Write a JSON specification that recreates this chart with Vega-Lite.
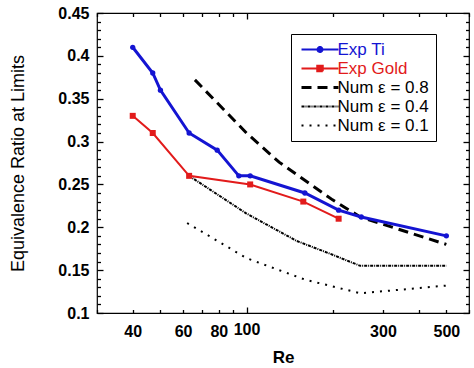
{
  "$schema": "https://vega.github.io/schema/vega-lite/v6.json",
  "width": 372,
  "height": 300,
  "autosize": {"type": "none"},
  "padding": {"left": 97, "top": 13, "right": 5, "bottom": 55},
  "background": "white",
  "config": {
    "font": "Liberation Sans",
    "view": {"stroke": "black", "strokeWidth": 1.2},
    "axis": {
      "grid": false,
      "domain": false,
      "ticks": true,
      "labelFont": "Liberation Sans",
      "labelFontWeight": "bold",
      "labelFontSize": 16,
      "labelColor": "black",
      "tickColor": "black",
      "tickOpacity": 1,
      "tickWidth": 1.3,
      "titleFont": "Liberation Sans",
      "titleColor": "black",
      "labelOverlap": false,
      "labelFlush": false,
      "labelBound": false
    }
  },
  "datasets": {
    "d": [
      {"series": "Exp Ti", "Re": 40, "phi": 0.41},
      {"series": "Exp Ti", "Re": 47, "phi": 0.38},
      {"series": "Exp Ti", "Re": 50, "phi": 0.36},
      {"series": "Exp Ti", "Re": 63, "phi": 0.31},
      {"series": "Exp Ti", "Re": 79, "phi": 0.29},
      {"series": "Exp Ti", "Re": 94, "phi": 0.26},
      {"series": "Exp Ti", "Re": 103, "phi": 0.26},
      {"series": "Exp Ti", "Re": 160, "phi": 0.24},
      {"series": "Exp Ti", "Re": 210, "phi": 0.22},
      {"series": "Exp Ti", "Re": 252, "phi": 0.212},
      {"series": "Exp Ti", "Re": 500, "phi": 0.19},
      {"series": "Exp Gold", "Re": 40, "phi": 0.33},
      {"series": "Exp Gold", "Re": 47, "phi": 0.31},
      {"series": "Exp Gold", "Re": 63, "phi": 0.26},
      {"series": "Exp Gold", "Re": 103, "phi": 0.25},
      {"series": "Exp Gold", "Re": 158, "phi": 0.23},
      {"series": "Exp Gold", "Re": 210, "phi": 0.21},
      {"series": "Num ε = 0.8", "Re": 66, "phi": 0.372},
      {"series": "Num ε = 0.8", "Re": 100, "phi": 0.31},
      {"series": "Num ε = 0.8", "Re": 130, "phi": 0.276},
      {"series": "Num ε = 0.8", "Re": 200, "phi": 0.232},
      {"series": "Num ε = 0.8", "Re": 250, "phi": 0.212},
      {"series": "Num ε = 0.8", "Re": 500, "phi": 0.18},
      {"series": "Num ε = 0.4", "Re": 63, "phi": 0.26},
      {"series": "Num ε = 0.4", "Re": 100, "phi": 0.216},
      {"series": "Num ε = 0.4", "Re": 150, "phi": 0.184},
      {"series": "Num ε = 0.4", "Re": 200, "phi": 0.168},
      {"series": "Num ε = 0.4", "Re": 250, "phi": 0.155},
      {"series": "Num ε = 0.4", "Re": 500, "phi": 0.155},
      {"series": "Num ε = 0.1", "Re": 62, "phi": 0.205},
      {"series": "Num ε = 0.1", "Re": 100, "phi": 0.164},
      {"series": "Num ε = 0.1", "Re": 160, "phi": 0.139},
      {"series": "Num ε = 0.1", "Re": 250, "phi": 0.123},
      {"series": "Num ε = 0.1", "Re": 500, "phi": 0.132}
    ]
  },
  "data": {"name": "d"},
  "layer": [
    {
      "transform": [{"filter": "datum.series === 'Num ε = 0.8'"}],
      "mark": {"type": "line", "strokeWidth": 3},
      "encoding": {
        "x": {
          "field": "Re", "type": "quantitative",
          "scale": {"type": "log", "domain": [30, 600]},
          "axis": {
            "title": "Re",
            "titleFontSize": 17,
            "titleFontWeight": "bold",
            "titlePadding": 10,
            "ticks": true,
            "values": [30, 40, 50, 60, 70, 80, 90, 100, 200, 300, 400, 500, 600],
            "labelExpr": "indexof([40, 60, 80, 100, 300, 500], datum.value) >= 0 ? '' + datum.value : ''",
            "tickSize": {"condition": {"test": "datum.value === 100", "value": -6}, "value": -3.5},
            "labelPadding": 14
          }
        },
        "y": {
          "field": "phi", "type": "quantitative",
          "scale": {"domain": [0.1, 0.45]},
          "axis": {
            "title": "Equivalence Ratio at Limits",
            "titleFontSize": 18,
            "titleFontWeight": "normal",
            "titlePadding": 30,
            "ticks": true,
            "values": [0.1, 0.11, 0.12, 0.13, 0.14, 0.15, 0.16, 0.17, 0.18, 0.19, 0.2, 0.21, 0.22, 0.23, 0.24, 0.25, 0.26, 0.27, 0.28, 0.29, 0.3, 0.31, 0.32, 0.33, 0.34, 0.35, 0.36, 0.37, 0.38, 0.39, 0.4, 0.41, 0.42, 0.43, 0.44, 0.45],
            "labelExpr": "abs(datum.value * 20 - round(datum.value * 20)) < 0.001 ? format(datum.value, '~g') : ''",
            "tickSize": {"condition": {"test": "abs(datum.value * 20 - round(datum.value * 20)) < 0.001", "value": -6}, "value": -3.5},
            "labelPadding": 14
          }
        },
        "color": {
          "field": "series", "type": "nominal",
          "scale": {
            "domain": ["Exp Ti", "Exp Gold", "Num ε = 0.8", "Num ε = 0.4", "Num ε = 0.1"],
            "range": ["#1414d2", "#e21b1b", "black", "black", "black"]
          },
          "legend": {
            "title": null,
            "orient": "none",
            "legendX": 194,
            "legendY": 21,
            "strokeColor": "black",
            "fillColor": "white",
            "padding": 7,
            "symbolSize": 100,
            "symbolOffset": 13.5,
            "labelOffset": 9,
            "labelFont": "Liberation Sans",
            "labelFontSize": 17,
            "labelFontWeight": "normal",
            "rowPadding": 1,
            "symbolStrokeWidth": 2,
            "encode": {
              "labels": {"update": {"fill": {"signal": "datum.value === 'Exp Ti' ? '#1414d2' : datum.value === 'Exp Gold' ? '#e21b1b' : 'black'"}}},
              "symbols": {"update": {
                "shape": {"signal": "datum.value === 'Exp Ti' ? 'M-3.7,0H3.7M0.5,0A0.5,0.5,0,1,1,-0.5,0A0.5,0.5,0,1,1,0.5,0Z' : datum.value === 'Exp Gold' ? 'M-3.7,0H3.7M-0.55,-0.55H0.55V0.55H-0.55Z' : 'M-3.7,0H3.7'"},
                "fill": {"signal": "datum.value === 'Exp Ti' ? '#1414d2' : datum.value === 'Exp Gold' ? '#e21b1b' : 'transparent'"},
                "stroke": {"signal": "datum.value === 'Exp Ti' ? '#1414d2' : datum.value === 'Exp Gold' ? '#e21b1b' : 'black'"},
                "strokeDash": {"signal": "datum.value === 'Num ε = 0.8' ? [8, 6] : datum.value === 'Num ε = 0.4' ? [3, 1, 1, 1] : datum.value === 'Num ε = 0.1' ? [2, 4] : [1, 0]"},
                "strokeWidth": {"signal": "datum.value === 'Num ε = 0.8' ? 3 : 2"},
                "opacity": {"value": 1}
              }}
            }
          }
        },
        "strokeDash": {
          "field": "series", "type": "nominal",
          "scale": {
            "domain": ["Exp Ti", "Exp Gold", "Num ε = 0.8", "Num ε = 0.4", "Num ε = 0.1"],
            "range": [[1, 0], [1, 0], [10, 6], [3, 1, 1, 1], [2, 6]]
          },
          "legend": null
        }
      }
    },
    {
      "transform": [{"filter": "datum.series === 'Num ε = 0.4' || datum.series === 'Num ε = 0.1'"}],
      "mark": {"type": "line", "strokeWidth": 2},
      "encoding": {
        "x": {"field": "Re", "type": "quantitative", "scale": {"type": "log", "domain": [30, 600]}, "axis": null},
        "y": {"field": "phi", "type": "quantitative", "scale": {"domain": [0.1, 0.45]}, "axis": null},
        "color": {"field": "series", "type": "nominal"},
        "strokeDash": {"field": "series", "type": "nominal"}
      }
    },
    {
      "transform": [{"filter": "datum.series === 'Exp Gold'"}],
      "mark": {"type": "line", "strokeWidth": 2},
      "encoding": {
        "x": {"field": "Re", "type": "quantitative", "scale": {"type": "log", "domain": [30, 600]}, "axis": null},
        "y": {"field": "phi", "type": "quantitative", "scale": {"domain": [0.1, 0.45]}, "axis": null},
        "color": {"field": "series", "type": "nominal"}
      }
    },
    {
      "transform": [{"filter": "datum.series === 'Exp Ti'"}],
      "mark": {"type": "line", "strokeWidth": 3},
      "encoding": {
        "x": {"field": "Re", "type": "quantitative", "scale": {"type": "log", "domain": [30, 600]}, "axis": null},
        "y": {"field": "phi", "type": "quantitative", "scale": {"domain": [0.1, 0.45]}, "axis": null},
        "color": {"field": "series", "type": "nominal"}
      }
    },
    {
      "transform": [{"filter": "datum.series === 'Exp Gold'"}],
      "mark": {"type": "point", "shape": "square", "filled": true, "size": 36, "opacity": 1},
      "encoding": {
        "x": {"field": "Re", "type": "quantitative", "scale": {"type": "log", "domain": [30, 600]}, "axis": null},
        "y": {"field": "phi", "type": "quantitative", "scale": {"domain": [0.1, 0.45]}, "axis": null},
        "color": {"field": "series", "type": "nominal"}
      }
    },
    {
      "transform": [{"filter": "datum.series === 'Exp Ti'"}],
      "mark": {"type": "point", "shape": "circle", "filled": true, "size": 28, "opacity": 1},
      "encoding": {
        "x": {"field": "Re", "type": "quantitative", "scale": {"type": "log", "domain": [30, 600]}, "axis": null},
        "y": {"field": "phi", "type": "quantitative", "scale": {"domain": [0.1, 0.45]}, "axis": null},
        "color": {"field": "series", "type": "nominal"}
      }
    },
    {
      "mark": {"type": "point", "opacity": 0},
      "encoding": {
        "x": {
          "field": "Re", "type": "quantitative",
          "scale": {"type": "log", "domain": [30, 600]},
          "axis": {
            "orient": "top",
            "title": null,
            "labels": false,
            "ticks": true,
            "values": [30, 40, 50, 60, 70, 80, 90, 100, 200, 300, 400, 500, 600],
            "tickSize": {"condition": {"test": "datum.value === 100", "value": -6}, "value": -3.5}
          }
        },
        "y": {
          "field": "phi", "type": "quantitative",
          "scale": {"domain": [0.1, 0.45]},
          "axis": {
            "orient": "right",
            "title": null,
            "labels": false,
            "ticks": true,
            "values": [0.1, 0.11, 0.12, 0.13, 0.14, 0.15, 0.16, 0.17, 0.18, 0.19, 0.2, 0.21, 0.22, 0.23, 0.24, 0.25, 0.26, 0.27, 0.28, 0.29, 0.3, 0.31, 0.32, 0.33, 0.34, 0.35, 0.36, 0.37, 0.38, 0.39, 0.4, 0.41, 0.42, 0.43, 0.44, 0.45],
            "tickSize": {"condition": {"test": "abs(datum.value * 20 - round(datum.value * 20)) < 0.001", "value": -6}, "value": -3.5}
          }
        }
      }
    }
  ],
  "resolve": {"axis": {"x": "independent", "y": "independent"}}
}
